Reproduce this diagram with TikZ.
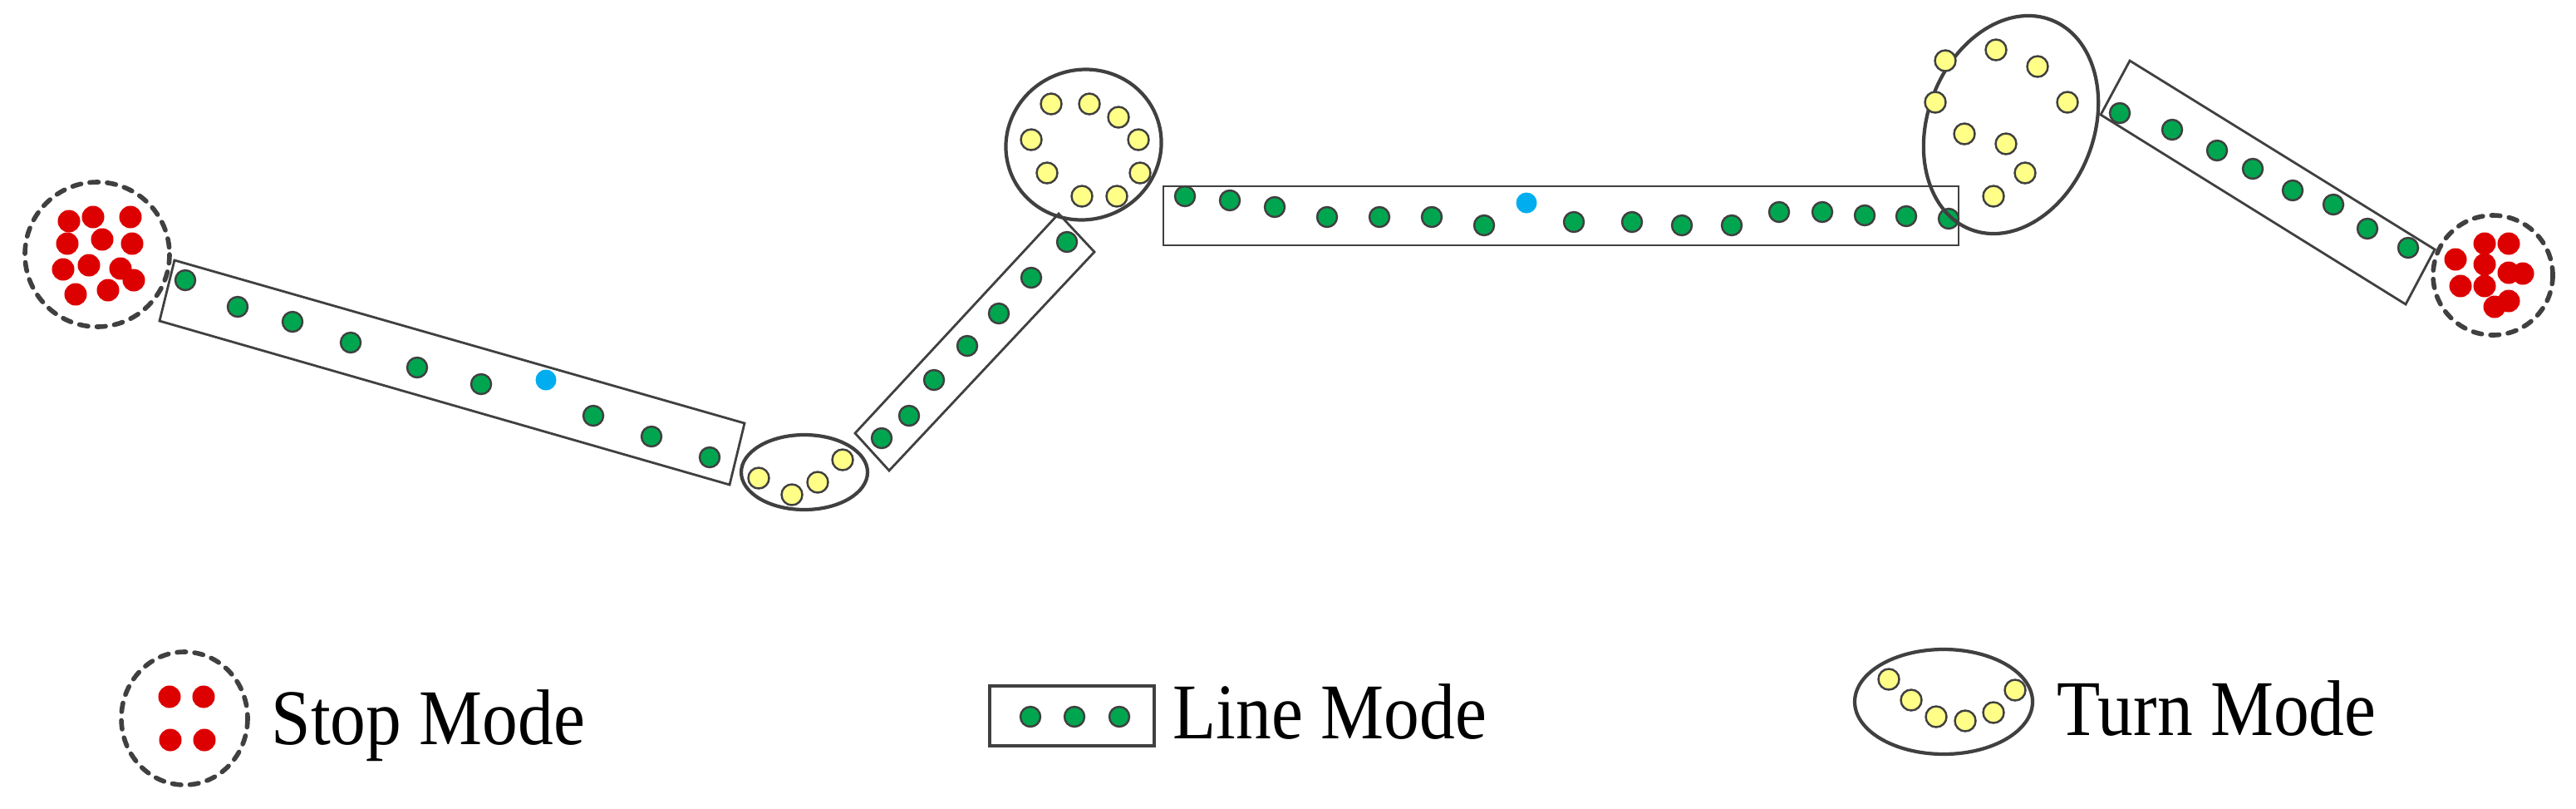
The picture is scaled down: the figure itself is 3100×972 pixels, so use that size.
\documentclass[tikz,border=0pt]{standalone}
\usepackage{fontspec}
\setmainfont{Liberation Serif}
\begin{document}
\begin{tikzpicture}[x=0.01cm,y=-0.01cm,
  gdot/.style={circle,draw=black!75,line width=0.7pt,fill=dotgreen,inner sep=0,minimum size=0.24cm},
  ydot/.style={circle,draw=black!75,line width=0.7pt,fill=dotyellow,inner sep=0,minimum size=0.25cm},
  rdot/.style={circle,fill=dotred,inner sep=0,minimum size=0.27cm},
  bdot/.style={circle,fill=dotblue,inner sep=0,minimum size=0.25cm},
  linebox/.style={draw=black!75,line width=0.8pt},
  turnell/.style={draw=black!75,line width=1.2pt},
  stopcirc/.style={draw=black!75,line width=1.6pt,dash pattern=on 3pt off 3pt,line cap=round},
  lbl/.style={font=\fontsize{27}{32}\selectfont,anchor=base west,inner sep=0,xscale=0.9,transform shape}]
\definecolor{dotgreen}{HTML}{00A64F}
\definecolor{dotyellow}{HTML}{FFFF88}
\definecolor{dotred}{HTML}{DD0000}
\definecolor{dotblue}{HTML}{00AEEF}
\useasboundingbox (0,0) rectangle (3100,972);
% stop mode left
\draw[stopcirc] (117,306) circle (87);
\foreach \p [count=\i] in {(83,266),(112,261),(157,261),(81,293),(123,288),(159,293),(76,324),(107,319),(145,323),(161,337),(91,354),(130,349)}
  \node[rdot] (rl\i) at \p {};
% line box 1
\draw[linebox] (210,313) -- (896,509) -- (878,583) -- (192,386) -- cycle;
\foreach \p [count=\i] in {(223,337),(286,369),(352,387),(422,412),(502,442),(579,462),(714,500),(784,525),(854,550)}
  \node[gdot] (ga\i) at \p {};
\node[bdot] (ba) at (657,457) {};
% turn 1
\draw[turnell] (968,568) ellipse [x radius=76,y radius=45];
\foreach \p [count=\i] in {(913,575),(953,595),(984,580),(1014,553)}
  \node[ydot] (ya\i) at \p {};
% line box 2
\draw[linebox] (1274,257) -- (1317,303) -- (1070,566) -- (1029,521) -- cycle;
\foreach \p [count=\i] in {(1284,291),(1241,334),(1202,377),(1164,416),(1124,457),(1094,500),(1061,527)}
  \node[gdot] (gb\i) at \p {};
% turn 2
\draw[turnell,rotate around={20:(1304,174)}] (1304,174) ellipse [x radius=94,y radius=90];
\foreach \p [count=\i] in {(1265,125),(1311,125),(1346,141),(1241,168),(1370,168),(1260,208),(1372,208),(1302,236),(1344,236)}
  \node[ydot] (yb\i) at \p {};
% line box 3
\draw[linebox] (1400,224) rectangle (2357,295);
\foreach \p [count=\i] in {(1426,236),(1480,241),(1534,249),(1597,261),(1660,261),(1723,261),(1786,271),(1894,267),(1964,267),(2024,271),(2084,271),(2141,255),(2193,255),(2244,259),(2294,260),(2345,263)}
  \node[gdot] (gc\i) at \p {};
\node[bdot] (bc) at (1837,244) {};
% turn 3
\draw[turnell,rotate around={-21:(2420,150)}] (2420,150) ellipse [x radius=100,y radius=135];
\foreach \p [count=\i] in {(2341,73),(2402,60),(2452,80),(2329,123),(2488,123),(2364,161),(2414,173),(2437,208),(2399,236)}
  \node[ydot] (yc\i) at \p {};
% line box 4
\draw[linebox] (2563,73) -- (2930,300) -- (2895,366) -- (2528,138) -- cycle;
\foreach \p [count=\i] in {(2551,136),(2614,156),(2668,181),(2711,203),(2759,229),(2808,246),(2849,275),(2898,298)}
  \node[gdot] (gd\i) at \p {};
% stop mode right
\draw[stopcirc] (3000,331) circle (72);
\foreach \p [count=\i] in {(2955,312),(2990,293),(3019,293),(2990,318),(3019,328),(3036,329),(2961,344),(2990,344),(3019,362),(3002,369)}
  \node[rdot] (rr\i) at \p {};
% legend
\draw[stopcirc] (222,864) ellipse [x radius=76,y radius=80];
\foreach \p [count=\i] in {(204,838),(245,838),(205,890),(246,890)}
  \node[rdot] (rg\i) at \p {};
\node[lbl] (tstop) at (326,895) {Stop Mode};
\draw[linebox,line width=1.1pt] (1191,825) rectangle (1389,897);
\foreach \p [count=\i] in {(1240,862),(1293,862),(1347,862)}
  \node[gdot] (gg\i) at \p {};
\node[lbl] (tline) at (1411,888) {Line Mode};
\draw[turnell] (2339,844) ellipse [x radius=107,y radius=63];
\foreach \p [count=\i] in {(2273,817),(2300,842),(2330,862),(2365,867),(2399,857),(2425,830)}
  \node[ydot] (yg\i) at \p {};
\node[lbl] (tturn) at (2475,884) {Turn Mode};
\end{tikzpicture}
\end{document}
